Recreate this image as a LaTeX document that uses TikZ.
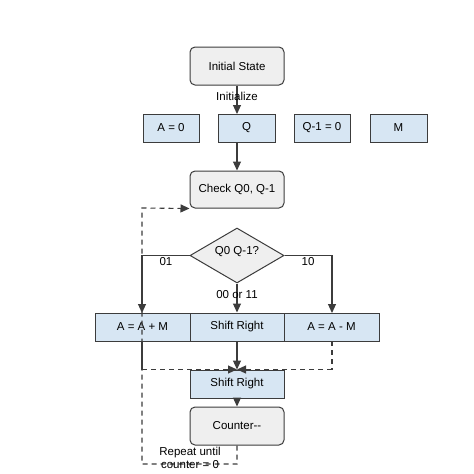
\documentclass[tikz,border=0pt]{standalone}
\usepackage{fontspec}
\setmainfont{Liberation Sans}
\usetikzlibrary{shapes.geometric,arrows.meta}
\definecolor{bordc}{HTML}{3C3C3C}
\definecolor{grayf}{HTML}{EFEFEF}
\definecolor{bluef}{HTML}{D7E6F3}
\begin{document}
\begin{tikzpicture}[x=1pt,y=-1pt,
  font=\fontsize{11.5}{13}\selectfont,
  base/.style={draw=bordc,line width=1pt,inner sep=0pt,text=black},
  grybox/.style={base,fill=grayf,rounded corners=5pt,minimum width=94pt},
  blubox/.style={base,fill=bluef,minimum height=28pt},
  arr/.style={draw=bordc,line width=1.1pt,-{Triangle[length=9pt,width=8pt]}},
  ln/.style={draw=bordc,line width=1.1pt},
  dsh/.style={draw=bordc,line width=1.1pt,dash pattern=on 5pt off 4pt},
  lbl/.style={inner sep=1pt,text=black}]
\useasboundingbox (0,0) rectangle (474,474);
\fill[white] (0,0) rectangle (474,474);
% nodes
\node[grybox,minimum height=38pt] (init) at (237,66) {\raisebox{-1pt}{Initial State}};
\node[blubox,minimum width=56pt] (a0) at (171,128) {A = 0};
\node[blubox,minimum width=57pt] (q) at (246.5,128) {Q};
\node[blubox,minimum width=56pt] (qm) at (322,128) {Q-1 = 0};
\node[blubox,minimum width=57pt] (m) at (398.5,128) {M};
\node[grybox,minimum height=37pt] (check) at (237,189.5) {\raisebox{-1pt}{Check Q0, Q-1}};
\node[base,fill=grayf,diamond,minimum width=94pt,minimum height=55pt,aspect=1.7] (dec) at (237,255.5) {};
\node[lbl] (dectxt) at (237,251.5) {Q0 Q-1?};
\node[blubox,minimum width=95pt] (aam) at (142.5,327) {A = A + M};
\node[blubox,minimum width=94pt] (sr1) at (237,327) {Shift Right};
\node[blubox,minimum width=95pt] (asm) at (331.5,327) {A = A - M};
\node[blubox,minimum width=94pt] (sr2) at (237,384) {Shift Right};
\node[grybox,minimum height=38pt] (cnt) at (237,426) {\raisebox{-1pt}{Counter{-}{-}}};
% helper coordinates
\coordinate (qin) at (237,114);
\coordinate (lc) at (142,255.5);
\coordinate (rc) at (332,255.5);
\coordinate (aamtop) at (142,313);
\coordinate (asmtop) at (332,313);
\coordinate (aamb) at (142,341);
\coordinate (asmb) at (332,341);
\coordinate (lj) at (142,369.5);
\coordinate (rj) at (332,369.5);
\coordinate (cb) at (237,464);
\coordinate (lb) at (142,464);
\coordinate (lt) at (142,208);
% connectors
\draw[arr] (init.south) -- (qin);
\node[lbl] (initlbl) at (237,96) {Initialize};
\draw[arr] (q.south -| check.north) -- (check.north);
\draw[arr] (dec.west) -- (lc) -- (aamtop);
\draw[arr] (dec.east) -- (rc) -- (asmtop);
\draw[arr] (dec.south) -- (sr1.north);
\node[lbl] (l01) at (166,262) {01};
\node[lbl] (l10) at (308,262) {10};
\node[lbl] (l0011) at (237,295) {00 or 11};
\draw[ln] (aamb) -- (lj);
\draw[dsh,-{Triangle[length=9pt,width=8pt]}] (lj) -- (sr2.north);
\draw[dsh] (asmb) -- (rj);
\draw[dsh,-{Triangle[length=9pt,width=8pt]}] (rj) -- (sr2.north);
\draw[arr] (sr1.south) -- (sr2.north);
\draw[arr] (sr2.south) -- (cnt.north);
\draw[dsh,-{Triangle[length=9pt,width=8pt]}] (cnt.south) -- (cb) -- (lb) -- (lt) -- (check.south west);
\node[lbl,align=center,font=\fontsize{11.5}{13.5}\selectfont] (rep) at (190,458) {Repeat until\\counter = 0};
\end{tikzpicture}
\end{document}
